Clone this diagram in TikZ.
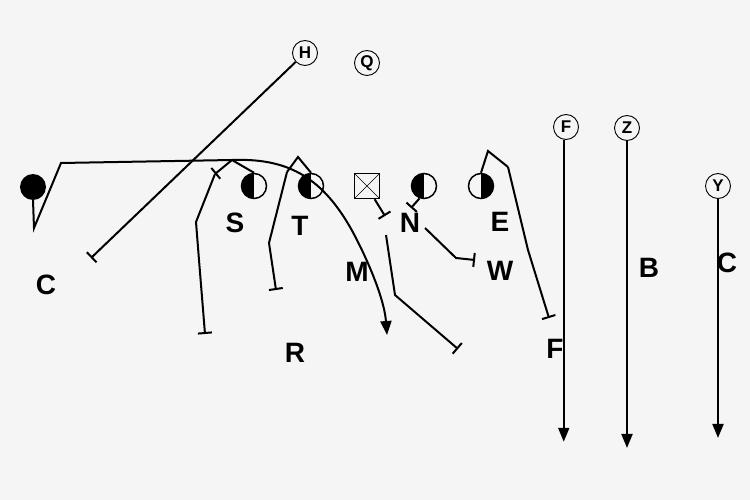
\documentclass[tikz,border=0pt]{standalone}
\usepackage{fontspec}
\setmainfont{Liberation Sans}
\usetikzlibrary{arrows.meta}
\definecolor{bgc}{RGB}{245,245,245}
\begin{document}
\begin{tikzpicture}[x=1pt,y=-1pt,
  route/.style={line width=2pt,line join=miter},
  blk/.style={route,-{Bar[width=14pt,line width=2pt]}},
  run/.style={route,-{Triangle[length=14pt,width=11pt]}},
  lbl/.style={font=\fontsize{28}{28}\selectfont\bfseries,inner sep=0pt},
  plr/.style={circle,draw,line width=0.9pt,minimum size=25pt,inner sep=0pt,font=\fontsize{17}{17}\selectfont\bfseries},
  halfL/.style={circle,draw,line width=1.5pt,minimum size=25pt,inner sep=0pt,
    path picture={\fill (path picture bounding box.north) rectangle (path picture bounding box.south west);}},
  halfR/.style={circle,draw,line width=1.5pt,minimum size=25pt,inner sep=0pt,
    path picture={\fill (path picture bounding box.north) rectangle (path picture bounding box.south east);}},
  ctr/.style={rectangle,draw,line width=1.5pt,minimum size=25pt,inner sep=0pt,
    path picture={\draw[line width=0.5pt] (path picture bounding box.north west) -- (path picture bounding box.south east)
                   (path picture bounding box.north east) -- (path picture bounding box.south west);}},
]
\useasboundingbox (0,0) rectangle (750,500);
\fill[bgc] (0,0) rectangle (750,500);

% offensive players
\node[circle,fill=black,minimum size=26pt,inner sep=0pt] (RB) at (33,187) {};
\node[halfL] (Sp) at (254,186) {};
\node[halfL] (Tp) at (311,186) {};
\node[ctr] (Cp) at (367,186) {};
\node[halfL] (Np) at (424,186) {};
\node[halfR] (Ep) at (481,186) {};

% circled players
\node[plr] (H) at (305,53) {H};
\node[plr] (Q) at (367,63) {Q};
\node[plr] (F) at (566,127) {F};
\node[plr] (Z) at (627,128) {Z};
\node[plr] (Y) at (718,186) {Y};

% letter labels
\node[lbl] (lS) at (235,223) {S};
\node[lbl] (lT) at (300,226) {T};
\node[lbl] (lN) at (410,223) {N};
\node[lbl] (lE) at (500,222) {E};
\node[lbl] (lM) at (357,272) {M};
\node[lbl] (lW) at (500,271) {W};
\node[lbl] (lC1) at (46,285) {C};
\node[lbl] (lR) at (295,353) {R};
\node[lbl] (lF) at (555,349) {F};
\node[lbl] (lB) at (649,268) {B};
\node[lbl] (lC2) at (727,263) {C};

% coordinates
\coordinate (rb1) at (34,228);
\coordinate (rb2) at (61,163);
\coordinate (sPeak) at (232,160);
\coordinate (mMid) at (350,227);
\coordinate (mEnd) at (387,335);
\coordinate (sTick) at (215,174);
\coordinate (s1) at (196,222);
\coordinate (s2) at (199,260);
\coordinate (sEnd) at (205,334);
\coordinate (tPeak) at (298,157);
\coordinate (t1) at (287,172);
\coordinate (t2) at (269,243);
\coordinate (tEnd) at (276,290);
\coordinate (cEnd) at (385,216);
\coordinate (m1) at (386,235);
\coordinate (m2) at (395,295);
\coordinate (m3End) at (458,349);
\coordinate (nEnd) at (411,208);
\coordinate (w1) at (425,228);
\coordinate (w2) at (456,258);
\coordinate (wEnd) at (475,260);
\coordinate (ePeak) at (488,151);
\coordinate (eTick) at (508,167);
\coordinate (e1) at (528,250);
\coordinate (eEnd) at (549,318);
\coordinate (hEnd) at (91,258);

% routes
\draw[run] (RB.south) -- (rb1) -- (rb2) -- (sPeak)
  .. controls (285,158) and (320,175) .. (mMid)
  .. controls (362,248) and (384,295) .. (mEnd);
\draw[blk] (Sp.north) -- (sPeak) -- (sTick);
\draw[blk] (sTick) -- (s1) -- (s2) -- (sEnd);
\draw[route] (Tp.north) -- (tPeak) -- (t1);
\draw[blk] (t1) -- (t2) -- (tEnd);
\draw[blk] (Cp.300) -- (cEnd);
\draw[blk] (m1) -- (m2) -- (m3End);
\draw[blk] (Np.250) -- (nEnd);
\draw[blk] (w1) -- (w2) -- (wEnd);
\draw[route] (Ep.north) -- (ePeak) -- (eTick);
\draw[blk] (eTick) -- (e1) -- (eEnd);
\draw[blk] (H) -- (hEnd);

\draw[run] (F.260) -- ++(0,302);
\draw[run] (Z.south) -- ++(0,307);
\draw[run] (Y.south) -- ++(0,239);
\end{tikzpicture}
\end{document}
